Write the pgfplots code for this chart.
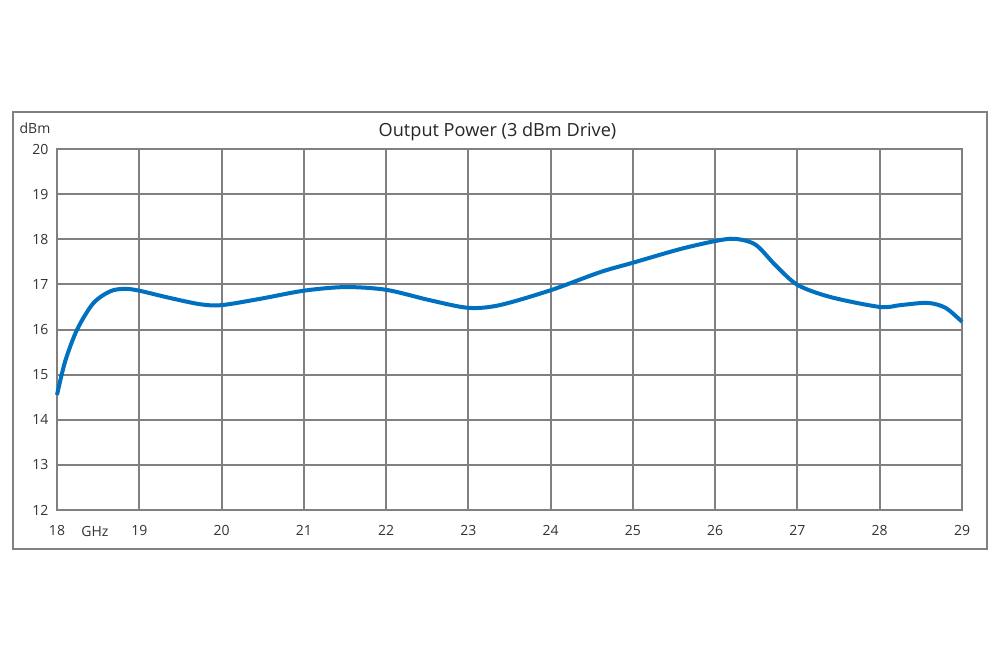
\documentclass[border=0pt]{standalone}
\usepackage{pgfplots}
\pgfplotsset{compat=1.18}
\usepackage{fontspec}
\setmainfont{Open Sans}
\definecolor{gridgray}{RGB}{128,128,128}
\definecolor{lineblue}{RGB}{0,112,192}
\begin{document}
\begin{tikzpicture}[x=1pt,y=1pt]
\path[fill=white] (-42.75,-117.75) rectangle (707.25,382.5);
\begin{axis}[
  at={(0,0)}, anchor=origin,
  scale only axis, width=678.75pt, height=270.75pt,
  xmin=18, xmax=29, ymin=12, ymax=20,
  xtick={18,19,...,29}, ytick={12,13,...,20},
  grid=major,
  major grid style={draw=gridgray, line width=1.5pt},
  axis line style={draw=gridgray, line width=1.5pt},
  tick style={draw=none},
  tick label style={font=\fontsize{10.5}{12}\selectfont, text=black!80},
  xticklabel style={yshift=-8pt},
  yticklabel style={xshift=-3pt},
  /pgf/number format/assume math mode=true,
  clip=false,
]
\addplot[lineblue, line width=3pt, smooth, tension=0.5] coordinates {
(18.00,14.55) (18.10,15.30) (18.245,16.00) (18.44,16.58) (18.65,16.85) (18.83,16.90)
(19.00,16.86) (19.37,16.70) (19.74,16.56) (20.00,16.54) (20.47,16.68)
(21.00,16.86) (21.50,16.94) (22.00,16.88) (22.53,16.65) (23.00,16.48)
(23.38,16.54) (24.00,16.87) (24.60,17.27) (25.00,17.48) (25.57,17.78)
(26.00,17.96) (26.24,18.01) (26.49,17.88) (26.73,17.43) (27.00,16.99)
(27.40,16.72) (28.00,16.50) (28.25,16.54) (28.58,16.59) (28.80,16.48)
(29.00,16.17)
};
\end{axis}
\draw[gridgray, line width=1.5pt] (-33,-29.25) rectangle (697.5,298.5);
\node[font=\fontsize{13.6}{16}\selectfont, text=black!85] at (330.4,284) {Output Power (3 dBm Drive)};
\node[font=\fontsize{10.5}{12}\selectfont, text=black!80] at (-16.5,286.5) {dBm};
\node[font=\fontsize{10.5}{12}\selectfont, text=black!80] at (28.5,-16.5) {GHz};
\end{tikzpicture}
\end{document}
